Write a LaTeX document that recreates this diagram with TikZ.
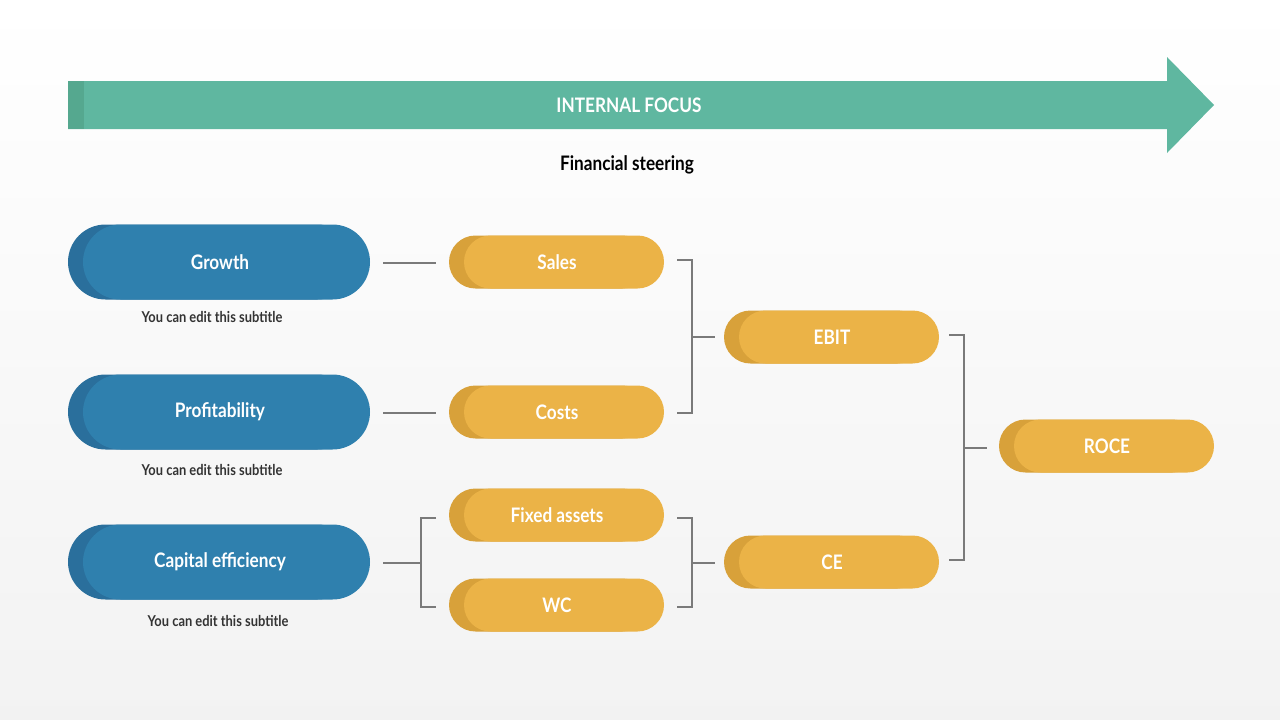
\documentclass[tikz,border=0pt]{standalone}
\usepackage{fontspec}
\setmainfont[FakeStretch=0.86]{Lato}
\definecolor{bluel}{HTML}{2F80AE}
\definecolor{blued}{HTML}{2A6F9C}
\definecolor{yell}{HTML}{EBB347}
\definecolor{yeld}{HTML}{D8A13A}
\definecolor{teal}{HTML}{5FB7A0}
\definecolor{teald}{HTML}{55A88F}
\definecolor{conn}{HTML}{7A7A7A}
\begin{document}
\begin{tikzpicture}[x=1pt,y=-1pt,
  lbl/.style={font=\bfseries\fontsize{20}{22}\selectfont,text=white},
  sub/.style={font=\bfseries\fontsize{15}{17}\selectfont,text=black!80},
  cn/.style={draw=conn,line width=1.5pt}]
\shade[top color=white,bottom color=black!5] (0,0) rectangle (1280,720);
\useasboundingbox (0,0) rectangle (1280,720);
% arrow
\fill[teal] (68,81) -- (1167,81) -- (1167,57) -- (1214,105) -- (1167,153) -- (1167,129) -- (68,129) -- cycle;
\fill[teald] (68,81) rectangle (84,129);
\node[lbl] (arr) at (629,105) {INTERNAL FOCUS};
\node[font=\bfseries\fontsize{20}{22}\selectfont] (fs) at (627,165) {Financial steering};
% pill macro via pic-like drawing
\newcommand{\mypill}[7]{% name,x1,x2,ymid,h,dark,light,text follow
  \fill[#6,rounded corners=#5/2-0.01] (#2,#4-#5/2) rectangle (#3-15,#4+#5/2);
  \fill[#7,rounded corners=#5/2-0.01] (#2+15,#4-#5/2) rectangle (#3,#4+#5/2);
  \coordinate (#1) at ({(#2+#3)/2},#4);}
\mypill{g}{68}{370}{262}{75}{blued}{bluel}
\mypill{p}{68}{370}{412}{75}{blued}{bluel}
\mypill{c}{68}{370}{562}{75}{blued}{bluel}
\node[lbl] (gt) at (220,262) {Growth};
\node[lbl] (pt) at (220,412) {Profitability};
\node[lbl] (ct) at (220,562) {Capital efficiency};
\node[sub] (gs) at (212,317) {You can edit this subtitle};
\node[sub] (ps) at (212,470) {You can edit this subtitle};
\node[sub] (cs) at (218,621) {You can edit this subtitle};
\mypill{s}{449}{664}{262}{53}{yeld}{yell}
\mypill{co}{449}{664}{412}{53}{yeld}{yell}
\mypill{fa}{449}{664}{515}{53}{yeld}{yell}
\mypill{wc}{449}{664}{605}{53}{yeld}{yell}
\mypill{eb}{724}{939}{337}{53}{yeld}{yell}
\mypill{ce}{724}{939}{562}{53}{yeld}{yell}
\mypill{ro}{999}{1214}{446}{53}{yeld}{yell}
\node[lbl] (st) at (557,262) {Sales};
\node[lbl] (cot) at (557,412) {Costs};
\node[lbl] (fat) at (557,515) {Fixed assets};
\node[lbl] (wct) at (557,605) {WC};
\node[lbl] (ebt) at (832,337) {EBIT};
\node[lbl] (cet) at (832,562) {CE};
\node[lbl] (rot) at (1107,446) {ROCE};
% connectors
\coordinate (a1) at (383,263); \coordinate (a2) at (436,263);
\coordinate (b1) at (383,413); \coordinate (b2) at (436,413);
\draw[cn] (a1) -- (a2); \draw[cn] (b1) -- (b2);
\coordinate (c1) at (383,563); \coordinate (c2) at (421,563);
\draw[cn] (c1) -- (c2);
\draw[cn] (436,518) -- (421,518) -- (421,607) -- (436,607);
\draw[cn] (677,260) -- (692,260) -- (692,413) -- (677,413);
\coordinate (d1) at (692,337); \coordinate (d2) at (715,337);
\draw[cn] (d1) -- (d2);
\draw[cn] (677,518) -- (692,518) -- (692,607) -- (677,607);
\coordinate (e1) at (692,563); \coordinate (e2) at (715,563);
\draw[cn] (e1) -- (e2);
\draw[cn] (949,335) -- (964,335) -- (964,560) -- (949,560);
\coordinate (f1) at (964,448); \coordinate (f2) at (987,448);
\draw[cn] (f1) -- (f2);
\end{tikzpicture}
\end{document}
